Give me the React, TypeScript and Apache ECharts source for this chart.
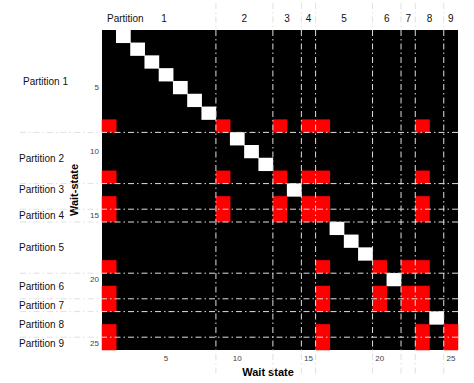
import React, { useEffect, useRef } from "react";
import * as echarts from "echarts";

// Wait states 1..25 (axis categories)
const states: string[] = Array.from({ length: 25 }, (_, i) => String(i + 1));
const tickLabels: string[] = ["5", "10", "15", "20", "25"];

// Last wait state of each partition
const partitionEnds: number[] = [8, 12, 14, 15, 19, 21, 22, 24, 25];
const partitionNames: string[] = ["1", "2", "3", "4", "5", "6", "7", "8", "9"];
const partitionLabels: string[] = partitionNames.map((n) => "Partition " + n);

// White cells: [row, column]
const whiteCells: [number, number][] = [
  [1, 2], [2, 3], [3, 4], [4, 5], [5, 6], [6, 7], [7, 8],
  [9, 10], [10, 11], [11, 12],
  [13, 14],
  [16, 17], [17, 18], [18, 19],
  [20, 21],
  [23, 24],
];

// Red cells: groups of rows sharing the same red columns
const redRowsA: number[] = [8, 12, 14, 15];
const redColsA: number[] = [1, 9, 13, 15, 16, 23];
const redRowsB: number[] = [19, 21, 22];
const redColsB: number[] = [1, 16, 20, 22, 23];
const redRowsC: number[] = [24, 25];
const redColsC: number[] = [1, 16, 23, 25];

const FONT = '"Liberation Sans", Arial, Helvetica, sans-serif';

export default function App() {
  const ref = useRef<HTMLDivElement>(null);

  useEffect(() => {
    if (!ref.current) return;
    const chart = echarts.init(ref.current, null, { renderer: "svg" });

    const data: [string, string, number][] = [];
    whiteCells.forEach(([r, c]) => data.push([String(c), String(r), 1]));
    const addRed = (rows: number[], cols: number[]) =>
      rows.forEach((r) => cols.forEach((c) => data.push([String(c), String(r), 2])));
    addRed(redRowsA, redColsA);
    addRed(redRowsB, redColsB);
    addRed(redRowsC, redColsC);

    chart.setOption({
      animation: false,
      backgroundColor: "#ffffff",
      grid: {
        left: 102,
        top: 30,
        width: 356,
        height: 320,
        show: true,
        backgroundColor: "#000000",
        borderWidth: 0,
      },
      xAxis: {
        type: "category",
        data: states,
        position: "bottom",
        axisLine: { show: false },
        axisTick: { show: false },
        splitLine: { show: false },
        axisLabel: {
          interval: (_i: number, v: string) => tickLabels.includes(v),
          fontSize: 8,
          color: "#444",
          fontFamily: FONT,
          margin: 4,
        },
        name: "Wait state",
        nameLocation: "middle",
        nameGap: 12,
        nameTextStyle: {
          fontSize: 11,
          fontWeight: "bold",
          color: "#000",
          fontFamily: FONT,
          verticalAlign: "top",
          padding: [0, 24, 0, 0],
        },
      },
      yAxis: {
        type: "category",
        data: states,
        inverse: true,
        axisLine: { show: false },
        axisTick: { show: false },
        splitLine: { show: false },
        axisLabel: {
          interval: (_i: number, v: string) => tickLabels.includes(v),
          fontSize: 8,
          color: "#444",
          fontFamily: FONT,
          margin: 3,
        },
        name: "Wait-state",
        nameLocation: "middle",
        nameGap: 18,
        nameRotate: 90,
        nameTextStyle: {
          fontSize: 11,
          fontWeight: "bold",
          color: "#000",
          fontFamily: FONT,
        },
      },
      visualMap: {
        type: "piecewise",
        show: false,
        dimension: 2,
        pieces: [
          { value: 1, color: "#ffffff" },
          { value: 2, color: "#ff0000" },
        ],
      },
      series: [
        {
          type: "heatmap",
          data,
          itemStyle: { borderWidth: 0 },
          emphasis: { disabled: true },
        },
      ],
    });

    const p0 = chart.convertToPixel({ gridIndex: 0 }, ["1", "1"]) as number[];
    const pN = chart.convertToPixel({ gridIndex: 0 }, ["25", "25"]) as number[];
    const bandX = (pN[0] - p0[0]) / 24;
    const bandY = (pN[1] - p0[1]) / 24;
    const left = p0[0] - bandX / 2;
    const top = p0[1] - bandY / 2;
    const right = left + 25 * bandX;
    const bx = (k: number) => left + k * bandX;
    const by = (k: number) => top + k * bandY;

    const lineStyle = {
      stroke: "#e0e0e0",
      lineWidth: 1,
      lineDash: [6, 3, 1.5, 3],
    };

    const graphics: any[] = [];
    partitionEnds.slice(0, -1).forEach((k) => {
      graphics.push({
        type: "line",
        z: 100,
        shape: { x1: bx(k), y1: 3, x2: bx(k), y2: 376 },
        style: lineStyle,
        silent: true,
      });
      graphics.push({
        type: "line",
        z: 100,
        shape: { x1: 20, y1: by(k), x2: right, y2: by(k) },
        style: lineStyle,
        silent: true,
      });
    });

    // Top partition numbers
    graphics.push({
      type: "text",
      z: 100,
      x: left + 5,
      y: 18,
      style: {
        text: "Partition",
        fill: "#111",
        font: `10px ${FONT}`,
        align: "left",
        verticalAlign: "middle",
      },
    });
    partitionEnds.forEach((end, j) => {
      const start = j === 0 ? 0 : partitionEnds[j - 1];
      const cx = (bx(start) + bx(end)) / 2 + (j === 0 ? 5 : 0);
      graphics.push({
        type: "text",
        z: 100,
        x: cx,
        y: 18,
        style: {
          text: partitionNames[j],
          fill: "#111",
          font: `10px ${FONT}`,
          align: "center",
          verticalAlign: "middle",
        },
      });
      const cy = (by(start) + by(end)) / 2 + (j === 2 ? -7 : 0);
      graphics.push({
        type: "text",
        z: 100,
        x: j === 0 ? 23 : 19,
        y: cy,
        style: {
          text: partitionLabels[j],
          fill: "#111",
          font: `10px ${FONT}`,
          align: "left",
          verticalAlign: "middle",
        },
      });
    });

    chart.setOption({ graphic: graphics });

    return () => chart.dispose();
  }, []);

  return (
    <div
      ref={ref}
      style={{ position: "fixed", left: 0, top: 0, width: 474, height: 383 }}
    />
  );
}
